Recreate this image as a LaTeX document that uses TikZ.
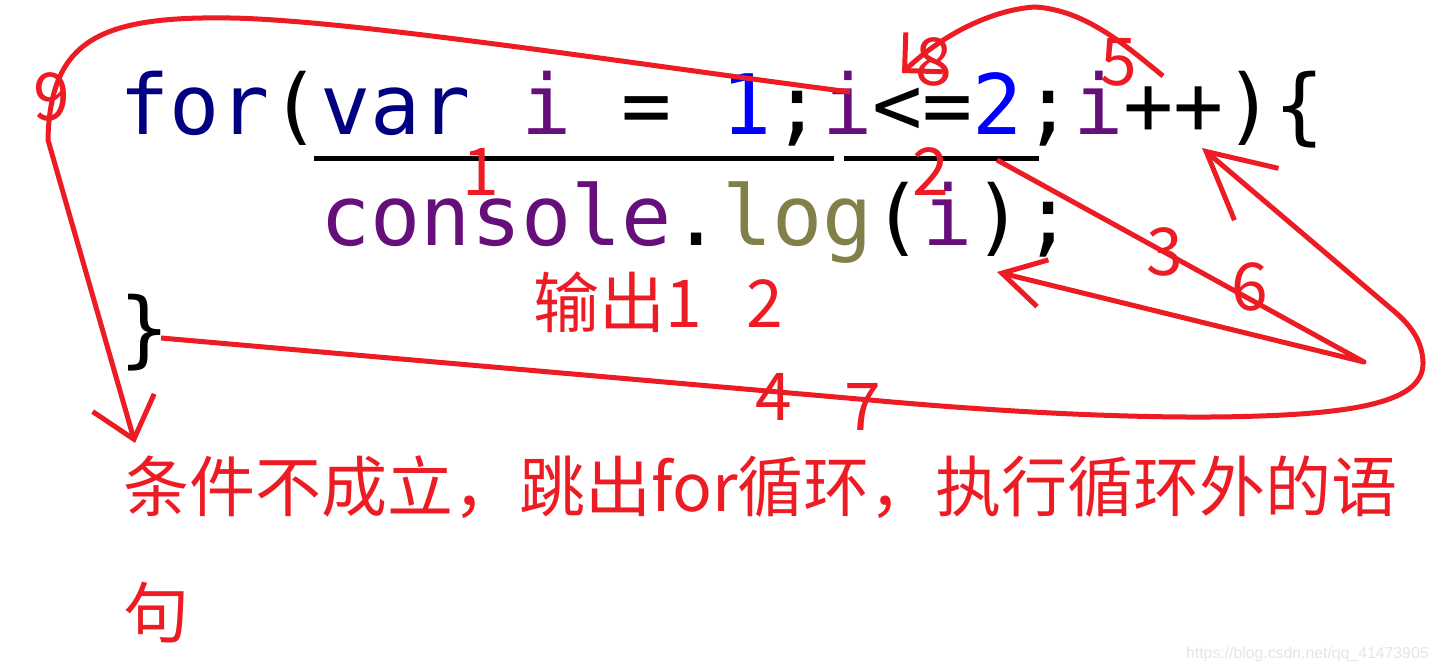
\documentclass[tikz,border=0pt]{standalone}
\usepackage{fontspec}
\usetikzlibrary{arrows.meta}
\newfontfamily\codefont{DejaVu Sans Mono}
\newfontfamily\cjk{Noto Sans CJK SC}
\newfontfamily\wmfont{Liberation Sans}
\definecolor{paintred}{RGB}{237,28,36}
\definecolor{kwnavy}{RGB}{0,0,128}
\definecolor{varpurple}{RGB}{102,14,122}
\definecolor{numblue}{RGB}{0,0,255}
\definecolor{fnolive}{RGB}{128,128,72}
\newcommand\kw[1]{\textcolor{kwnavy}{#1}}
\newcommand\codevar[1]{\textcolor{varpurple}{#1}}
\newcommand\codenum[1]{\textcolor{numblue}{#1}}
\begin{document}
\begin{tikzpicture}[x=0.5pt, y=-0.5pt,
    codeline/.style={anchor=base west, inner sep=0pt, font={\codefont\fontsize{41.7}{50}\selectfont}},
    redtext/.style={inner sep=0pt, text=paintred, font={\cjk\fontsize{33}{62.5}\selectfont}},
    uline/.style={draw=black, line width=2.5pt},
    stroke/.style={draw=paintred, line width=2.5pt, line join=round},
    arrowbig/.style={-{Straight Barb[length=33pt, width=34pt]}},
    arrowmid/.style={-{Straight Barb[length=21pt, width=24pt]}},
    arrowsmall/.style={-{Straight Barb[length=13.5pt, width=27pt]}},
    arrowexit/.style={-{Straight Barb[length=19pt, width=32pt]}}]
    \fill[white] (0,0) rectangle (1438,672);
    \useasboundingbox (0,0) rectangle (1438,672);

    \node[codeline] (forline) at (119,135) {\kw{for}(\kw{var} \codevar{i} = \codenum{1};\codevar{i}<=\codenum{2};\codevar{i}++)\{};
    \node[codeline] (logline) at (320,246) {\codevar{console}.\textcolor{fnolive}{log}(\codevar{i});};
    \node[codeline] (closeline) at (119,358) {\}};

    \coordinate (initL) at (314,159);
    \coordinate (initR) at (834,159);
    \coordinate (condL) at (844,159);
    \coordinate (condR) at (1039,159);
    \draw[uline] (initL) -- (initR);
    \draw[uline] (condL) -- (condR);

    \coordinate (condtop) at (850,92);
    \coordinate (exit) at (135,443);
    \coordinate (incr) at (1163,76);
    \coordinate (condin) at (902,73);
    \coordinate (condout) at (997,160);
    \coordinate (bodyin) at (997,272);
    \coordinate (bodyend) at (161,338);
    \coordinate (incrin) at (1202,148);

    \draw[stroke, arrowmid] (condout) -- (1364,362) -- (bodyin);
    \draw[stroke, arrowbig] (bodyend) -- (870,400)
        .. controls (1000,412) and (1150,420) .. (1260,416)
        .. controls (1380,412) and (1424,395) .. (1423,362)
        .. controls (1422,340) and (1410,325) .. (1395,312) -- (incrin);
    \draw[stroke, arrowsmall] (incr) .. controls (1125,45) and (1085,10) .. (1035,7)
        .. controls (1000,9) and (950,28) .. (condin);
    \draw[stroke, arrowexit] (condtop) .. controls (620,62) and (350,20) .. (230,18)
        .. controls (100,16) and (50,40) .. (48,140) -- (exit);

    \node[redtext] (lab9) at (52,97) {9};
    \node[redtext] (lab1) at (481,172) {1};
    \node[redtext] (lab2) at (931,172) {2};
    \node[redtext] (lab8) at (934,62) {8};
    \node[redtext] (lab5) at (1119,62) {5};
    \node[redtext] (lab3) at (1165,252) {3};
    \node[redtext] (lab6) at (1250,287) {6};
    \node[redtext] (lab4) at (774,397) {4};
    \node[redtext] (lab7) at (863,407) {7};
    \node[redtext, anchor=base west] (output) at (533,328) {输出1\hspace{0.67em}2};
    \node[redtext, anchor=base west, align=left] (exittext) at (123,637) {条件不成立，跳出for循环，执行循环外的语\\句};

    \node[anchor=base east, inner sep=0pt, text=black!10, font={\wmfont\fontsize{7.9}{9}\selectfont}] (watermark) at (1429,658) {https://blog.csdn.net/qq\_41473905};
\end{tikzpicture}
\end{document}
